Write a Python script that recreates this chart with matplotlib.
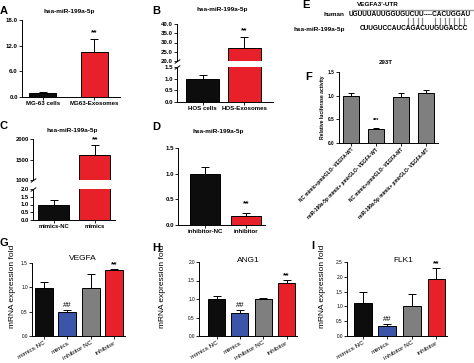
import matplotlib

matplotlib.use("Agg")
import matplotlib.pyplot as plt
import numpy as np

plt.rcParams["font.family"] = ["Liberation Sans", "DejaVu Sans"]

W, H = 474, 363

BLACK = "#0d0d0d"
RED = "#e8202a"
BLUE = "#3b55a8"
GRAY = "#7f7f7f"

# panel A
a_labels = ["MG-63 cells", "MG63-Exosomes"]
a_values = [1.0, 10.5]
a_errors = [0.15, 3.0]
# panel B
b_labels = ["HOS cells", "HOS-Exosomes"]
b_values = [1.0, 27.0]
b_errors = [0.15, 6.0]
# panel C
c_labels = ["mimics-NC", "mimics"]
c_values = [1.0, 1620.0]
c_errors = [0.28, 240.0]
# panel D
d_labels = ["inhibitor-NC", "inhibitor"]
d_values = [1.0, 0.17]
d_errors = [0.13, 0.07]
# panel E
utr_seq = "UGUUUAUUGGUGUCUU----CACUGGAU"
mir_seq = "CUUGUCCAUCAGACUUGUGACCC"
paired_idx = [12, 13, 14, 15, 20, 21, 22, 23, 24, 25, 26]
# panel F
f_labels = [
    "NC mimic+pmirGLO- VEGFA-WT",
    "miR-199a-5p mimic+ pmirGLO- VEGFA-WT",
    "NC mimic+pmirGLO- VEGFA-MT",
    "miR-199a-5p mimic+ pmirGLO- VEGFA-MT",
]
f_values = [1.0, 0.29, 0.97, 1.06]
f_errors = [0.06, 0.03, 0.08, 0.06]
# panels G-I
gene_labels = ["mimics NC", "mimics", "inhibitor NC", "inhibitor"]
vegfa_values = [0.99, 0.49, 0.99, 1.35]
vegfa_errors = [0.11, 0.04, 0.28, 0.03]
ang1_values = [0.99, 0.62, 0.99, 1.43]
ang1_errors = [0.09, 0.07, 0.04, 0.09]
flk1_values = [1.11, 0.33, 1.02, 1.94]
flk1_errors = [0.38, 0.06, 0.41, 0.37]


def px_axes(fig, left, top, right, bottom):
    return fig.add_axes([left / W, 1 - bottom / H, (right - left) / W, (bottom - top) / H])


def px_text(fig, x, y, s, **kw):
    kw.setdefault("ha", "center")
    kw.setdefault("va", "center")
    return fig.text(x / W, 1 - y / H, s, **kw)


def style(ax, size, bold=True):
    for side in ("top", "right"):
        ax.spines[side].set_visible(False)
    for side in ("left", "bottom"):
        ax.spines[side].set_linewidth(0.7)
    ax.tick_params(length=2, width=0.6, pad=1, labelsize=size)
    if bold:
        for lab in ax.get_xticklabels() + ax.get_yticklabels():
            lab.set_fontweight("bold")


def bars(ax, values, errors, colors, width, capsize=2.8):
    x = np.arange(len(values))
    ax.bar(x, values, width=width, color=colors, edgecolor="black", linewidth=0.7, zorder=2)
    ax.errorbar(x, values, yerr=[np.zeros(len(values)), errors], fmt="none", ecolor="black",
                elinewidth=0.7, capsize=capsize, capthick=0.7, zorder=1)
    return x


def break_marks(ax_top, ax_bot):
    kw = dict(marker=[(-1, -0.7), (1, 0.7)], markersize=4, linestyle="none",
              color="black", mec="black", mew=0.7, clip_on=False)
    ax_top.plot([0], [0], transform=ax_top.transAxes, **kw)
    ax_bot.plot([0], [1], transform=ax_bot.transAxes, **kw)


fig = plt.figure(figsize=(W / 100, H / 100), dpi=100)
title_kw = dict(fontsize=4.6, fontweight="bold")
letter_kw = dict(fontsize=8, fontweight="bold", ha="left")
star_kw = dict(fontsize=6, fontweight="bold", ha="center", va="bottom")

# ---- A
ax = px_axes(fig, 22, 20, 120, 97)
x = bars(ax, a_values, a_errors, [BLACK, RED], 0.52)
ax.set_xlim(-0.4, 1.5)
ax.set_ylim(0, 18)
ax.set_yticks([0, 6, 12, 18])
ax.set_yticklabels(["0.0", "6.0", "12.0", "18.0"])
ax.set_xticks(x)
ax.set_xticklabels(a_labels)
ax.tick_params(axis="x", length=0)
style(ax, 4.4)
ax.text(1, a_values[1] + a_errors[1] + 0.8, "**", **star_kw)
px_text(fig, 0, 11, "A", **letter_kw)
px_text(fig, 69, 11, "hsa-miR-199a-5p", **title_kw)

# ---- B (broken axis)
ax_t = px_axes(fig, 177, 24, 273, 61)
ax_b = px_axes(fig, 177, 67, 273, 102)
for a in (ax_t, ax_b):
    bars(a, b_values, b_errors, [BLACK, RED], 0.78)
    a.set_xlim(-0.61, 1.68)
ax_t.set_ylim(20, 40)
ax_t.set_yticks([20, 25, 30, 35, 40])
ax_t.set_yticklabels(["20.0", "25.0", "30.0", "35.0", "40.0"])
ax_t.set_xticks([])
ax_t.spines["bottom"].set_visible(False)
ax_b.set_ylim(0, 1.5)
ax_b.set_yticks([0, 0.5, 1.0, 1.5])
ax_b.set_yticklabels(["0.0", "0.5", "1.0", "1.5"])
ax_b.set_xticks([0, 1])
ax_b.set_xticklabels(b_labels)
ax_b.tick_params(axis="x", length=0)
style(ax_t, 4.4)
style(ax_b, 4.4)
break_marks(ax_t, ax_b)
ax_t.text(1, b_values[1] + b_errors[1] + 1.2, "**", **star_kw)
px_text(fig, 152, 11, "B", **letter_kw)
px_text(fig, 222, 9, "hsa-miR-199a-5p", **title_kw)

# ---- C (broken axis)
ax_t = px_axes(fig, 33, 139, 115, 180)
ax_b = px_axes(fig, 33, 189, 115, 220)
for a in (ax_t, ax_b):
    bars(a, c_values, c_errors, [BLACK, RED], 0.76)
    a.set_xlim(-0.51, 1.49)
ax_t.set_ylim(1000, 2000)
ax_t.set_yticks([1000, 1500, 2000])
ax_t.set_xticks([])
ax_t.spines["bottom"].set_visible(False)
ax_b.set_ylim(0, 2)
ax_b.set_yticks([0, 0.5, 1.0, 1.5, 2.0])
ax_b.set_yticklabels(["0.0", "0.5", "1.0", "1.5", "2.0"])
ax_b.set_xticks([0, 1])
ax_b.set_xticklabels(c_labels)
ax_b.tick_params(axis="x", length=0)
style(ax_t, 4.2)
style(ax_b, 4.2)
break_marks(ax_t, ax_b)
ax_t.text(1, c_values[1] + c_errors[1] + 40, "**", **star_kw)
px_text(fig, 0, 126, "C", **letter_kw)
px_text(fig, 72, 130, "hsa-miR-199a-5p", **title_kw)

# ---- D
ax = px_axes(fig, 178, 148, 265, 225)
x = bars(ax, d_values, d_errors, [BLACK, RED], 0.72)
ax.set_xlim(-0.66, 1.46)
ax.set_ylim(0, 1.5)
ax.set_yticks([0, 0.5, 1.0, 1.5])
ax.set_yticklabels(["0.0", "0.5", "1.0", "1.5"])
ax.set_xticks(x)
ax.set_xticklabels(d_labels)
ax.tick_params(axis="x", length=0)
style(ax, 4.4)
ax.text(1, d_values[1] + d_errors[1] + 0.1, "**", **star_kw)
px_text(fig, 152, 127, "D", **letter_kw)
px_text(fig, 218, 131, "hsa-miR-199a-5p", **title_kw)

# ---- E
seq_kw = dict(fontsize=4.7, fontweight="bold", ha="left")
px_text(fig, 302, 5, "E", **letter_kw)
px_text(fig, 378, 4, "VEGFA3'-UTR", fontsize=4.6, fontweight="bold")
fig.add_artist(plt.Line2D([352 / W, 1.0], [1 - 10 / H, 1 - 10 / H], color="#999999", lw=1.0))
px_text(fig, 344, 14, "human", fontsize=4.6, fontweight="bold", ha="right")
px_text(fig, 349, 14, utr_seq, **seq_kw)
px_text(fig, 345, 29, "hsa-miR-199a-5p", fontsize=4.6, fontweight="bold", ha="right")
px_text(fig, 360, 29, mir_seq, **seq_kw)

# pairing lines: centre them on the rendered characters of the UTR sequence
renderer = fig.canvas.get_renderer()


def prefix_width(s):
    if not s:
        return 0.0
    t = px_text(fig, 0, 0, s, **seq_kw)
    w = t.get_window_extent(renderer).width
    t.remove()
    return w


for i in paired_idx:
    x0 = prefix_width(utr_seq[:i])
    x1 = prefix_width(utr_seq[:i + 1])
    xp = (349 + (x0 + x1) / 2) / W
    fig.add_artist(plt.Line2D([xp, xp], [1 - 18 / H, 1 - 25 / H], color="#888888", lw=0.9))

# ---- F
ax = px_axes(fig, 339, 72, 438, 143)
x = bars(ax, f_values, f_errors, [GRAY] * 4, 0.64, capsize=2.5)
ax.set_xlim(-0.48, 3.48)
ax.set_ylim(0, 1.5)
ax.set_yticks([0, 0.5, 1.0, 1.5])
ax.set_yticklabels(["0.0", "0.5", "1.0", "1.5"])
ax.set_xticks(x)
ax.set_xticklabels(f_labels, rotation=45, ha="right", rotation_mode="anchor")
ax.tick_params(axis="x", length=0)
style(ax, 3.4)
ax.set_ylabel("Relative luciferase activity", fontsize=3.6, fontweight="bold", labelpad=2)
ax.text(1, f_values[1] + f_errors[1] + 0.1, "***", fontsize=4, fontweight="bold", ha="center", va="bottom")
px_text(fig, 305, 77, "F", **letter_kw)
px_text(fig, 386, 62, "293T", fontsize=4.4, fontweight="bold")

# ---- G, H, I
gene_panels = [
    ("G", "VEGFA", vegfa_values, vegfa_errors, (32, 263, 125, 336), 1.5, (-0.51, 3.47), 0.77,
     (0, 243), (83, 259), 13),
    ("H", "ANG1", ang1_values, ang1_errors, (199, 262, 297, 336), 2.0, (-0.75, 3.45), 0.73,
     (152, 248), (248, 261), 162),
    ("I", "FLK1", flk1_values, flk1_errors, (347, 262, 447, 336), 2.5, (-0.65, 3.43), 0.73,
     (311, 246), (403, 260), 323),
]
for letter, gene, vals, errs, box, ymax, xlim, width, lpos, tpos, ylx in gene_panels:
    ax = px_axes(fig, *box)
    x = bars(ax, vals, errs, [BLACK, BLUE, GRAY, RED], width)
    ax.set_xlim(*xlim)
    ax.set_ylim(0, ymax)
    ticks = np.arange(0, ymax + 0.01, 0.5)
    ax.set_yticks(ticks)
    ax.set_yticklabels([f"{t:.1f}" for t in ticks])
    ax.set_xticks(x)
    ax.set_xticklabels(gene_labels, rotation=30, ha="right", rotation_mode="anchor")
    ax.tick_params(axis="x", length=0)
    style(ax, 4.0, bold=False)
    for lab in ax.get_yticklabels():
        lab.set_fontsize(3.4)
    for lab in ax.get_xticklabels():
        lab.set_fontsize(4.6)
    ax.text(1, vals[1] + errs[1] + 0.02 * ymax, "##", fontsize=5.5, ha="center", va="bottom")
    ax.text(3, vals[3] + errs[3] + 0.01 * ymax, "**", fontsize=6, fontweight="bold", ha="center", va="bottom")
    px_text(fig, lpos[0], lpos[1], letter, **letter_kw)
    px_text(fig, tpos[0], tpos[1], gene, fontsize=6)
    px_text(fig, ylx, 286, "mRNA expression fold", fontsize=6, rotation=90)

fig.savefig("out.png", dpi=100)
